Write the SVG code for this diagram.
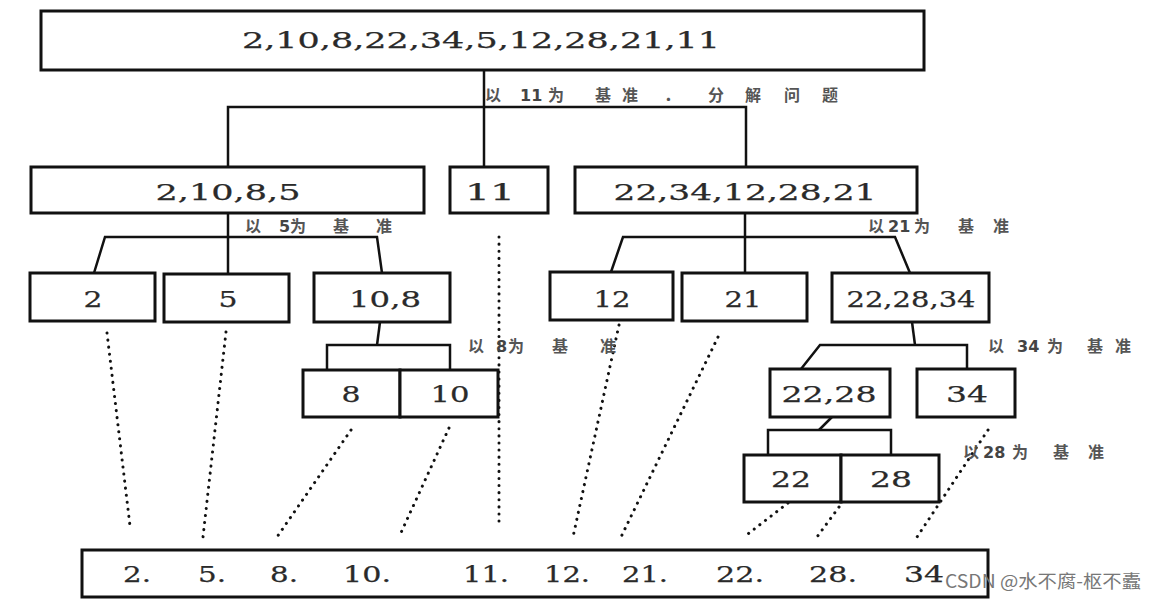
<svg xmlns="http://www.w3.org/2000/svg" width="1156" height="601" viewBox="0 0 1156 601">
<style>
.box{fill:#fff;stroke:#111;stroke-width:3}
.num{font-family:"DejaVu Serif","Liberation Serif",serif;font-size:22px;fill:#2a2a2a;stroke:#2a2a2a;stroke-width:0.25;text-anchor:middle}
.bnum{font-family:"DejaVu Serif","Liberation Serif",serif;font-size:22px;fill:#2a2a2a;stroke:#2a2a2a;stroke-width:0.25}
.lbl{font-family:"Noto Sans CJK SC","DejaVu Sans",sans-serif;font-size:16px;fill:#555;font-weight:bold}
.ld{font-family:"DejaVu Sans","Liberation Sans",sans-serif;font-size:16px;font-weight:bold;fill:#444}
.ln{stroke:#111;stroke-width:2.5;fill:none}
.dot{stroke:#111;stroke-width:3;stroke-linecap:round;stroke-dasharray:0.1 7;fill:none}
.wm{font-family:"Noto Sans CJK SC","DejaVu Sans",sans-serif;font-size:18px;fill:#777}
</style>
<rect width="1156" height="601" fill="#fff"/>
<g id="connectors">
<line class="ln" x1="484" y1="70" x2="484" y2="167"/>
<polyline class="ln" points="228,167 228,107 746,107 746,167"/>
<line class="ln" x1="228" y1="213" x2="228" y2="274"/>
<polyline class="ln" points="94,273 105,237 377,237 382,273"/>
<polyline class="ln" points="380,322 377,345"/>
<polyline class="ln" points="327,370 327,345 450,345 450,370"/>
<line class="ln" x1="745" y1="213" x2="745" y2="273"/>
<polyline class="ln" points="611,272 623,237 895,237 910,273"/>
<line class="ln" x1="912" y1="322" x2="915" y2="345"/>
<polyline class="ln" points="801,369 820,345 967,345 967,369"/>
<line class="ln" x1="832" y1="417" x2="819" y2="430"/>
<polyline class="ln" points="768,455 768,430 891,430 891,455"/>
<line class="dot" x1="107" y1="333" x2="130" y2="526"/>
<line class="dot" x1="226" y1="332" x2="203" y2="537"/>
<line class="dot" x1="351" y1="430" x2="277" y2="537"/>
<line class="dot" x1="449" y1="428" x2="399" y2="537"/>
<line class="dot" x1="499" y1="237" x2="499" y2="523"/>
<line class="dot" x1="619" y1="325" x2="573" y2="537"/>
<line class="dot" x1="718" y1="337" x2="621" y2="537"/>
<line class="dot" x1="788" y1="503" x2="744" y2="537"/>
<line class="dot" x1="839" y1="507" x2="817" y2="537"/>
<line class="dot" x1="988" y1="430" x2="917" y2="537"/>
</g>
<g id="n_top"><rect class="box" x="41" y="11" width="883" height="59"/><text class="num" x="481" y="48" textLength="478" lengthAdjust="spacingAndGlyphs">2,10,8,22,34,5,12,28,21,11</text></g>
<g id="lbl_11"><text class="lbl" y="101"><tspan x="485">以</tspan><tspan class="ld" x="520">11</tspan><tspan x="548">为</tspan><tspan x="595">基</tspan><tspan x="622">准</tspan><tspan x="664">．</tspan><tspan x="708">分</tspan><tspan x="745">解</tspan><tspan x="784">问</tspan><tspan x="822">题</tspan></text></g>
<g id="n_left"><rect class="box" x="31" y="167" width="393" height="46"/><text class="num" x="228" y="200" textLength="145" lengthAdjust="spacingAndGlyphs">2,10,8,5</text></g>
<g id="n_11"><rect class="box" x="450" y="167" width="98" height="46"/><text class="num" x="490" y="200" textLength="50" lengthAdjust="spacingAndGlyphs">11</text></g>
<g id="n_right"><rect class="box" x="575" y="167" width="342" height="46"/><text class="num" x="745" y="200" textLength="263" lengthAdjust="spacingAndGlyphs">22,34,12,28,21</text></g>
<g id="lbl_5"><text class="lbl" y="232"><tspan x="245">以</tspan><tspan class="ld" x="279">5</tspan><tspan x="290">为</tspan><tspan x="333">基</tspan><tspan x="376">准</tspan></text></g>
<g id="lbl_21"><text class="lbl" y="232"><tspan x="868">以</tspan><tspan class="ld" x="888">21</tspan><tspan x="914">为</tspan><tspan x="958">基</tspan><tspan x="993">准</tspan></text></g>
<g id="n_2"><rect class="box" x="30" y="273" width="125" height="48"/><text class="num" x="93" y="307" textLength="19" lengthAdjust="spacingAndGlyphs">2</text></g>
<g id="n_5"><rect class="box" x="164" y="274" width="125" height="48"/><text class="num" x="228" y="307" textLength="19" lengthAdjust="spacingAndGlyphs">5</text></g>
<g id="n_108"><rect class="box" x="314" y="273" width="136" height="49"/><text class="num" x="385" y="307" textLength="72" lengthAdjust="spacingAndGlyphs">10,8</text></g>
<g id="lbl_8"><text class="lbl" y="352"><tspan x="468">以</tspan><tspan class="ld" x="496">8</tspan><tspan x="508">为</tspan><tspan x="552">基</tspan><tspan x="600">准</tspan></text></g>
<g id="n_8"><rect class="box" x="303" y="370" width="97" height="47"/><text class="num" x="351" y="402" textLength="19" lengthAdjust="spacingAndGlyphs">8</text></g>
<g id="n_10"><rect class="box" x="400" y="370" width="98" height="47"/><text class="num" x="450" y="402" textLength="39" lengthAdjust="spacingAndGlyphs">10</text></g>
<g id="n_12"><rect class="box" x="550" y="272" width="123" height="48"/><text class="num" x="612" y="307" textLength="37" lengthAdjust="spacingAndGlyphs">12</text></g>
<g id="n_21"><rect class="box" x="682" y="273" width="125" height="48"/><text class="num" x="743" y="307" textLength="37" lengthAdjust="spacingAndGlyphs">21</text></g>
<g id="n_222834"><rect class="box" x="832" y="273" width="157" height="49"/><text class="num" x="911" y="307" textLength="129" lengthAdjust="spacingAndGlyphs">22,28,34</text></g>
<g id="lbl_34"><text class="lbl" y="352"><tspan x="988">以</tspan><tspan class="ld" x="1017">34</tspan><tspan x="1047">为</tspan><tspan x="1087">基</tspan><tspan x="1115">准</tspan></text></g>
<g id="n_2228"><rect class="box" x="770" y="369" width="120" height="48"/><text class="num" x="829" y="402" textLength="95" lengthAdjust="spacingAndGlyphs">22,28</text></g>
<g id="n_34"><rect class="box" x="917" y="369" width="98" height="48"/><text class="num" x="967" y="402" textLength="42" lengthAdjust="spacingAndGlyphs">34</text></g>
<g id="lbl_28"><text class="lbl" y="458"><tspan x="963">以</tspan><tspan class="ld" x="983">28</tspan><tspan x="1012">为</tspan><tspan x="1053">基</tspan><tspan x="1088">准</tspan></text></g>
<g id="n_22"><rect class="box" x="744" y="455" width="97" height="47"/><text class="num" x="791" y="487" textLength="40" lengthAdjust="spacingAndGlyphs">22</text></g>
<g id="n_28"><rect class="box" x="841" y="455" width="98" height="47"/><text class="num" x="891" y="487" textLength="42" lengthAdjust="spacingAndGlyphs">28</text></g>
<g id="n_bottom"><rect class="box" x="82" y="550" width="906" height="47"/>
<text class="bnum" x="123" y="582" textLength="28" lengthAdjust="spacingAndGlyphs">2.</text>
<text class="bnum" x="198" y="582" textLength="28" lengthAdjust="spacingAndGlyphs">5.</text>
<text class="bnum" x="270" y="582" textLength="28" lengthAdjust="spacingAndGlyphs">8.</text>
<text class="bnum" x="343" y="582" textLength="48" lengthAdjust="spacingAndGlyphs">10.</text>
<text class="bnum" x="463" y="582" textLength="46" lengthAdjust="spacingAndGlyphs">11.</text>
<text class="bnum" x="544" y="582" textLength="46" lengthAdjust="spacingAndGlyphs">12.</text>
<text class="bnum" x="622" y="582" textLength="46" lengthAdjust="spacingAndGlyphs">21.</text>
<text class="bnum" x="716" y="582" textLength="48" lengthAdjust="spacingAndGlyphs">22.</text>
<text class="bnum" x="809" y="582" textLength="48" lengthAdjust="spacingAndGlyphs">28.</text>
<text class="bnum" x="904" y="582" textLength="40" lengthAdjust="spacingAndGlyphs">34</text>
</g>
<g id="watermark"><text class="wm" x="945" y="588" textLength="196" lengthAdjust="spacingAndGlyphs">CSDN @水不腐-枢不蠹</text></g>
</svg>
